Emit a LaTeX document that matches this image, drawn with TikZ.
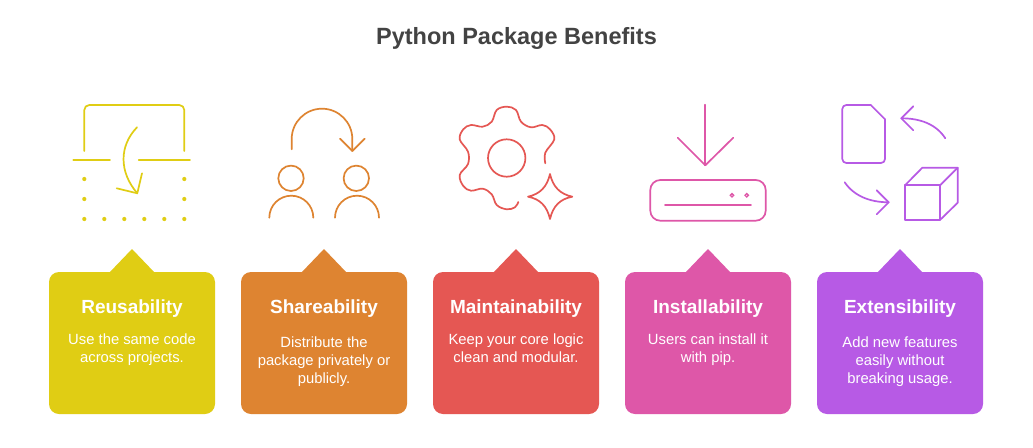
\documentclass[tikz,border=0pt]{standalone}
\usepackage{fontspec}
\setmainfont{Liberation Sans}
\definecolor{cyel}{HTML}{E0CD14}
\definecolor{cora}{HTML}{DE8431}
\definecolor{cred}{HTML}{E55753}
\definecolor{cpin}{HTML}{DE57A8}
\definecolor{cpur}{HTML}{B75AE5}
\definecolor{ctitle}{HTML}{434343}
\tikzset{
  cardbody/.style={rounded corners=10pt,fill=#1},
  cardtip/.style={fill=#1},
  cardtitle/.style={text=white,font=\bfseries\fontsize{19}{22}\selectfont,anchor=base},
  cardtext/.style={text=white,font=\fontsize{14.8}{18}\selectfont,align=center,anchor=north},
  icon/.style={draw=#1,line width=1.7pt,line cap=round,line join=round},
  dotmark/.style={fill=#1,draw=none},
}
\newcommand{\card}[6]{%
  \begin{scope}[xshift=#1pt]
    \fill[cardtip=#2] (109,273) -- (132,249) -- (155,273) -- cycle;
    \path[cardbody=#2] (49,272) rectangle (215,414);
    \node[cardtitle] (#3t) at (132,313.5) {#4};
    \node[cardtext] (#3b) at (132,#5) {#6};
  \end{scope}}
\begin{document}
\begin{tikzpicture}[x=1pt,y=-1pt]
\useasboundingbox (0,0) rectangle (1033,447);
\fill[white] (0,0) rectangle (1033,447);
\node[text=ctitle,font=\bfseries\fontsize{23.5}{26}\selectfont,anchor=base] (title) at (516.5,44) {Python Package Benefits};
\card{0}{cyel}{a}{Reusability}{330}{Use the same code\\across projects.}
\card{192}{cora}{b}{Shareability}{333}{Distribute the\\package privately or\\publicly.}
\card{384}{cred}{c}{Maintainability}{330}{Keep your core logic\\clean and modular.}
\card{576}{cpin}{d}{Installability}{330}{Users can install it\\with pip.}
\card{768}{cpur}{e}{Extensibility}{333}{Add new features\\easily without\\breaking usage.}
% icon 1
\draw[icon=cyel,rounded corners=5pt] (84.3,151) -- (84.3,105) -- (184.3,105) -- (184.3,151);
\draw[icon=cyel] (73.3,160.3) -- (110,160.3);
\draw[icon=cyel] (138.7,160.3) -- (190,160.3);
\foreach \x in {84.3,104.3,124.3,144.3,164.3,184.3} \fill[dotmark=cyel] (\x,219) circle (2.1);
\foreach \x in {84.3,184.3} \foreach \y in {179,199} \fill[dotmark=cyel] (\x,\y) circle (2.1);
\draw[icon=cyel] (137,127.3) .. controls (119,146) and (119,172) .. (137.3,193.3);
\draw[icon=cyel] (116.7,188.3) -- (137.3,193.3) -- (142,173.3);
% icon 2
\draw[icon=cora] (291.7,149.3) -- (291.7,139) arc[start angle=180,end angle=360,radius=30.3] -- (352.3,151);
\draw[icon=cora] (340,138.7) -- (352.3,151) -- (364.7,138.7);
\draw[icon=cora] (291,178.3) circle (12.7);
\draw[icon=cora] (356.3,178.3) circle (12.7);
\draw[icon=cora] (269.3,217.7) arc[start angle=180,end angle=360,radius=22];
\draw[icon=cora] (335,217.7) arc[start angle=180,end angle=360,radius=22];
% icon 3
\draw[icon=cred] (506.7,158) circle (18.7);
\draw[icon=cred] plot[smooth,tension=0.6] coordinates {(545.3,163.3) (545.3,152.7) (554.3,139.3) (550,129.3) (542.3,125) (531,127.3) (521,121.7) (516,110) (506.7,106.7) (496.7,110) (491.7,121.7) (482.7,126.7) (471,125) (463.3,129.3) (459.7,139.3) (468,151.7) (468,164) (459.7,175) (463.3,186) (471,190.7) (482.7,188.7) (491.7,194.3) (496.7,205) (506.7,209.3) (515,207.3) (518.3,202)};
\draw[icon=cred] (550,174) .. controls (553,187) and (560,194) .. (572.3,196.7) .. controls (560,199) and (553,206) .. (550,219) .. controls (547,206) and (540,199) .. (528,196.7) .. controls (540,194) and (547,187) .. (550,174) -- cycle;
% icon 4
\draw[icon=cpin] (705.3,104.7) -- (705.3,165.3);
\draw[icon=cpin] (677.7,137.7) -- (705.3,165.3) -- (733.3,137.7);
\draw[icon=cpin,rounded corners=10pt] (650.3,180) rectangle (765.7,220.7);
\draw[icon=cpin] (665,205.3) -- (751,205.3);
\draw[draw=cpin,line width=1.3pt] (732,195.3) circle (1.7);
\draw[draw=cpin,line width=1.3pt] (746.7,195.3) circle (1.7);
% icon 5
\draw[icon=cpur,rounded corners=4pt] (870.7,105) -- (842.3,105) -- (842.3,163) -- (885,163) -- (885,119.3);
\draw[icon=cpur] (866.7,105) -- (870.7,105) -- (885,119.3) -- (885,123.3);
\draw[icon=cpur] (945.3,138.3) .. controls (936,124) and (920,118.3) .. (901.3,118.3);
\draw[icon=cpur] (913.3,106.3) -- (901.3,118.3) -- (913.3,130.3);
\draw[icon=cpur] (844.7,182.3) .. controls (854,196) and (870,202.3) .. (888.7,202.3);
\draw[icon=cpur] (876.7,190.3) -- (888.7,202.3) -- (876.7,214.3);
\draw[icon=cpur] (905,185.3) rectangle (940,220);
\draw[icon=cpur] (905,185.3) -- (922.3,167.7) -- (957.7,167.7) -- (957.7,202.7) -- (940,220);
\draw[icon=cpur] (940,185.3) -- (957.7,167.7);
\end{tikzpicture}
\end{document}
